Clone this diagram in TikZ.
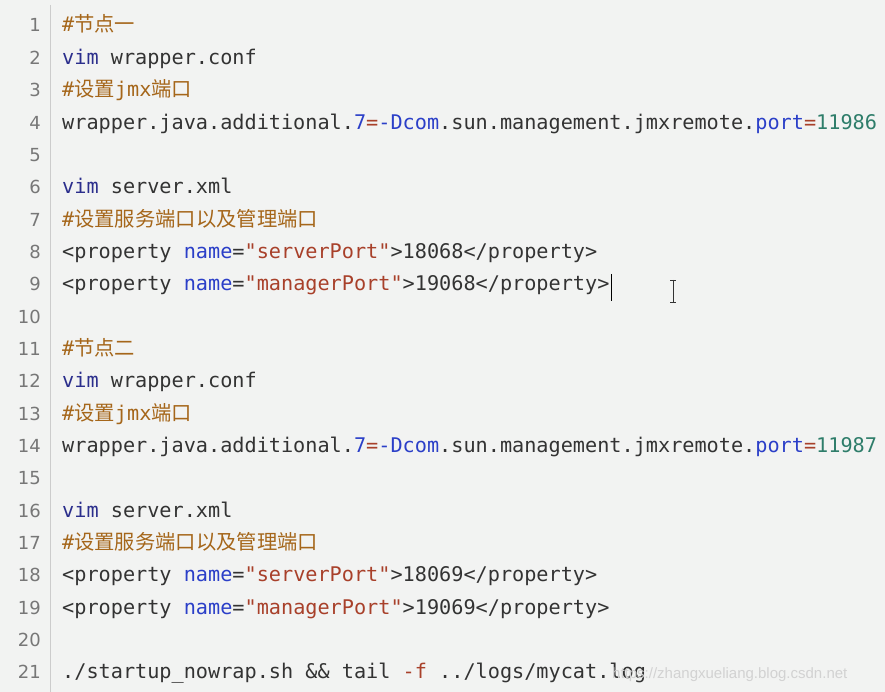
\documentclass[tikz,border=0pt]{standalone}
\usepackage{fontspec}
\setmonofont{DejaVu Sans Mono}
\newfontfamily\cjk{Noto Sans CJK SC}
\newfontfamily\wm{Liberation Sans}
\newfontfamily\lnfont{DejaVu Sans}
\definecolor{bg}{HTML}{F2F3F2}
\definecolor{cmt}{HTML}{A5661A}
\definecolor{kw}{HTML}{2B2E8C}
\definecolor{attr}{HTML}{2B3FC8}
\definecolor{str}{HTML}{A8402A}
\definecolor{num}{HTML}{2E7D6A}
\definecolor{txt}{HTML}{333333}
\definecolor{lno}{HTML}{777777}
\newcommand\C[1]{{\cjk\fontsize{20.3}{22}\selectfont #1}}
\newcommand\Cm[1]{\textcolor{cmt}{#1}}
\begin{document}
\begin{tikzpicture}[x=1pt,y=1pt,
  code/.style={anchor=base west,inner sep=0,text=txt,font=\ttfamily\fontsize{20.2}{22}\selectfont},
  lnum/.style={anchor=base east,inner sep=0,text=lno,font=\lnfont\fontsize{18}{20}\selectfont}]
\fill[bg] (0,0) rectangle (885,692);
\useasboundingbox (0,0) rectangle (885,692);
\draw[gray!40,line width=1pt] (50,692-5) -- (50,0);
\foreach \i in {1,...,21}{
  \node[lnum] (n\i) at (41,{692-32-32.35*(\i-1)}) {\i};
}
\def\L#1{692-32-32.35*(#1-1)}
\node[code] (l1) at (62,{\L{1}}) {\Cm{\#\C{节点一}}};
\node[code] (l2) at (62,{\L{2}}) {\textcolor{kw}{vim} wrapper.conf};
\node[code] (l3) at (62,{\L{3}}) {\Cm{\#\C{设置}jmx\C{端口}}};
\node[code] (l4) at (62,{\L{4}}) {wrapper.java.additional.\textcolor{attr}{7}\textcolor{str}{=}\textcolor{attr}{-Dcom}.sun.management.jmxremote.\textcolor{attr}{port}\textcolor{str}{=}\textcolor{num}{11986}};
\node[code] (l6) at (62,{\L{6}}) {\textcolor{kw}{vim} server.xml};
\node[code] (l7) at (62,{\L{7}}) {\Cm{\#\C{设置服务端口以及管理端口}}};
\node[code] (l8) at (62,{\L{8}}) {<property \textcolor{attr}{name}=\textcolor{str}{"serverPort"}>18068</property>};
\node[code] (l9) at (62,{\L{9}}) {<property \textcolor{attr}{name}=\textcolor{str}{"managerPort"}>19068</property>};
\node[code] (l11) at (62,{\L{11}}) {\Cm{\#\C{节点二}}};
\node[code] (l12) at (62,{\L{12}}) {\textcolor{kw}{vim} wrapper.conf};
\node[code] (l13) at (62,{\L{13}}) {\Cm{\#\C{设置}jmx\C{端口}}};
\node[code] (l14) at (62,{\L{14}}) {wrapper.java.additional.\textcolor{attr}{7}\textcolor{str}{=}\textcolor{attr}{-Dcom}.sun.management.jmxremote.\textcolor{attr}{port}\textcolor{str}{=}\textcolor{num}{11987}};
\node[code] (l16) at (62,{\L{16}}) {\textcolor{kw}{vim} server.xml};
\node[code] (l17) at (62,{\L{17}}) {\Cm{\#\C{设置服务端口以及管理端口}}};
\node[code] (l18) at (62,{\L{18}}) {<property \textcolor{attr}{name}=\textcolor{str}{"serverPort"}>18069</property>};
\node[code] (l19) at (62,{\L{19}}) {<property \textcolor{attr}{name}=\textcolor{str}{"managerPort"}>19069</property>};
\node[code] (l21) at (62,{\L{21}}) {./startup\_nowrap.sh \&\& tail \textcolor{str}{-f} ../logs/mycat.log};
\node[anchor=base west,inner sep=0,text=gray!35,font=\wm\fontsize{15}{17}\selectfont] (wmk) at (612,{\L{21}}) {https://zhangxueliang.blog.csdn.net};
% cursor
\coordinate (c1) at (611,{692-274});
\coordinate (c2) at (611,{692-301});
\draw[black,line width=1pt] (c1) -- (c2);
\coordinate (i1) at (673,{692-280});
\coordinate (i2) at (673,{692-302});
\draw[black!80,line width=1pt] (i1) -- (i2);
\draw[black!80,line width=0.8pt] ([xshift=-3]i1) -- ([xshift=3]i1) ([xshift=-3]i2) -- ([xshift=3]i2);
\end{tikzpicture}
\end{document}
